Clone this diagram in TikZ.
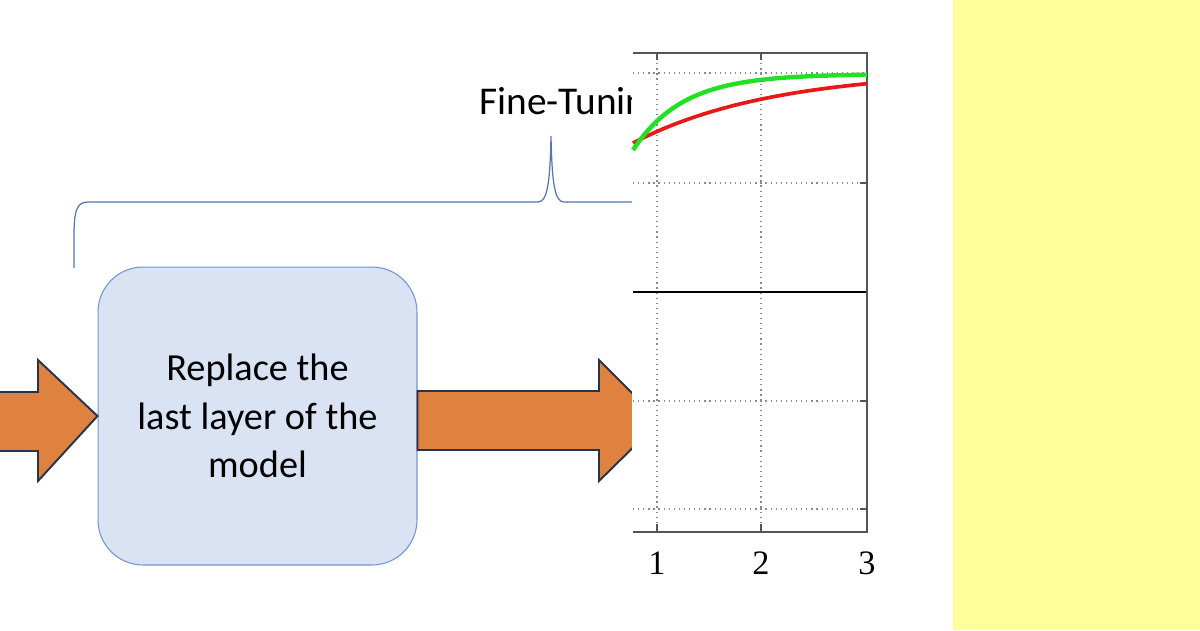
\documentclass[tikz,border=0pt]{standalone}
\usepackage{fontspec}
\setmainfont{Carlito}
\newfontfamily\serifnum{Liberation Serif}
\definecolor{yellowbg}{HTML}{FFFF99}
\definecolor{boxfill}{HTML}{DAE3F3}
\definecolor{boxline}{HTML}{7295CF}
\definecolor{bracecol}{HTML}{5676B2}
\definecolor{arrowfill}{HTML}{E0823F}
\definecolor{arrowline}{HTML}{27334A}
\definecolor{axiscol}{HTML}{555555}
\definecolor{gridcol}{HTML}{8A8A8A}
\definecolor{curvegreen}{HTML}{22E022}
\definecolor{curvered}{HTML}{E81818}
\tikzset{
  bracestyle/.style={draw=bracecol, line width=0.7pt},
  stepbox/.style={draw=boxline, fill=boxfill, line width=0.6pt, rounded corners=9mm,
    minimum width=63.8mm, minimum height=59.6mm, inner sep=0pt, align=center,
    font=\fontsize{21.8}{27.6}\selectfont},
  blockarrow/.style={fill=arrowfill, draw=arrowline, line width=1.1pt, line join=miter},
  gridline/.style={draw=gridcol, line width=0.6pt, dash pattern=on 0.7pt off 2.2pt},
  axisline/.style={draw=axiscol, line width=0.9pt},
  ticklabel/.style={font=\serifnum\fontsize{19.5}{21}\selectfont, anchor=base, inner sep=0pt},
}
\begin{document}
\begin{tikzpicture}[x=0.02cm,y=-0.02cm]
\useasboundingbox (0,0) rectangle (1200,630);
\clip (0,0) rectangle (1200,630);
\fill[white] (0,0) rectangle (1200,630);
\fill[yellowbg] (953,0) rectangle (1200,630);

% title (partly hidden behind the chart)
\node[anchor=base west, inner sep=0pt, font=\fontsize{22.4}{27}\selectfont] (title) at (479,114) {Fine-Tuning};

% brace
\coordinate (bl) at (74,268);
\coordinate (bpeak) at (551,136);
\coordinate (br) at (700,202);
\draw[bracestyle] (bl) -- (74,238) .. controls (74,212) and (76,202) .. (88,202)
  -- (538,202) .. controls (547,202) and (550,185) .. (bpeak)
  .. controls (552,185) and (555,202) .. (564,202) -- (br);

% box
\node[stepbox] (box) at (257.5,416) {Replace the\\last layer of the\\model};

% left block arrow
\draw[blockarrow] (-10,392) -- (38,392) -- (38,360) -- (box.west) -- (38,481) -- (38,451) -- (-10,451) -- cycle;
% right block arrow
\draw[blockarrow] (box.east |- 0,391) -- (599,391) -- (599,360) -- (660,421) -- (599,481) -- (599,450) -- (box.east |- 0,450) -- cycle;

% chart (white background covers what lies behind)
\fill[white] (632,20) rectangle (910,600);
\draw[gridline] (657,53) -- (657,532);
\draw[gridline] (761,53) -- (761,532);
\foreach \yy in {73,183,401,509} {\draw[gridline] (633,\yy) -- (867,\yy);}
\draw[black, line width=1pt] (633,292) -- (867,292);
\draw[axisline] (633,53) -- (867,53) -- (867,532) -- (633,532);
\foreach \xx in {657,761} {\draw[axisline] (\xx,53) -- (\xx,60); \draw[axisline] (\xx,532) -- (\xx,524);}
\foreach \yy in {183,401,509} {\draw[axisline] (867,\yy) -- (860,\yy);}
\node[ticklabel] (t1) at (657,574) {1};
\node[ticklabel] (t2) at (761,574) {2};
\node[ticklabel] (t3) at (867,574) {3};

\draw[curvered, line width=2.1pt] plot[domain=633:867, samples=60] (\x, {70+73*exp(-0.00716*(\x-633))});
\draw[curvegreen, line width=2.5pt] plot[domain=633:867, samples=60] (\x, {74+76*exp(-0.02*(\x-633))});
\end{tikzpicture}
\end{document}
